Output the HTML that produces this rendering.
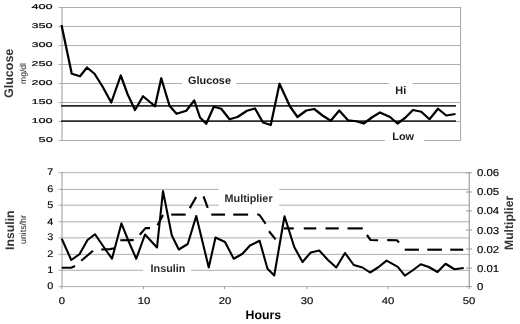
<!DOCTYPE html><html><head><meta charset="utf-8"><title>Glucose / Insulin chart</title><style>
html,body{margin:0;padding:0;background:#fff}
#c{position:relative;width:520px;height:324px;overflow:hidden;background:#fff;font-family:"Liberation Sans",Arial,Helvetica,sans-serif;color:#111;text-rendering:geometricPrecision}
.t{position:absolute;white-space:nowrap;line-height:1}
.yl{position:absolute;white-space:nowrap;line-height:1;font-size:7px;transform-origin:100% 50%;transform:scaleX(1.82);text-align:right;color:#000;-webkit-text-stroke:0.16px #000}
.bl{position:absolute;white-space:nowrap;line-height:1;font-size:10px;color:#000;-webkit-text-stroke:0.15px #000}
.rot{position:absolute;white-space:nowrap;line-height:1;transform-origin:0 0;transform:rotate(-90deg)}
</style></head><body><div id="c">
<svg width="520" height="324" viewBox="0 0 520 324" style="position:absolute;left:0;top:0">
<line x1="58.5" x2="461" y1="7.5" y2="7.5" stroke="#b0b0b0" stroke-width="1"/>
<line x1="58.5" x2="461" y1="26.5" y2="26.5" stroke="#b0b0b0" stroke-width="1"/>
<line x1="58.5" x2="461" y1="45.5" y2="45.5" stroke="#b0b0b0" stroke-width="1"/>
<line x1="58.5" x2="461" y1="64.5" y2="64.5" stroke="#b0b0b0" stroke-width="1"/>
<line x1="58.5" x2="461" y1="83.5" y2="83.5" stroke="#b0b0b0" stroke-width="1"/>
<line x1="58.5" x2="461" y1="102.5" y2="102.5" stroke="#b0b0b0" stroke-width="1"/>
<line x1="58.5" x2="461" y1="121.5" y2="121.5" stroke="#b0b0b0" stroke-width="1"/>
<line x1="58.5" x2="461" y1="140.5" y2="140.5" stroke="#b0b0b0" stroke-width="1"/>
<line x1="62" x2="62" y1="7" y2="141" stroke="#9a9a9a" stroke-width="1"/>
<line x1="460.6" x2="460.6" y1="7" y2="141" stroke="#a4a4a4" stroke-width="1"/>
<rect x="182" y="75" width="54" height="12" fill="#fff"/>
<rect x="389" y="78" width="23.5" height="18" fill="#fff"/>
<rect x="385" y="131" width="39" height="12" fill="#fff"/>
<line x1="61" x2="456" y1="105.8" y2="105.8" stroke="#2a2a2a" stroke-width="1.75"/>
<line x1="61" x2="456" y1="121.05" y2="121.05" stroke="#2a2a2a" stroke-width="1.75"/>
<polyline points="61.5,25 71.75,73.75 80,76.25 87,67.5 94.5,73.75 102.5,86.5 111.25,102.5 120.75,75.5 127.5,94 135,110 143,96.25 155,106.25 161.25,78.25 169.5,105.75 176.5,113.75 186.25,110.75 194.25,100.5 200,117.5 206.25,123.75 213.75,106.75 221.25,108.75 229.5,119.25 237.5,117 247,110.75 255,108.5 263,122.5 270.75,125 279.5,83.75 290,106.5 297.5,117 306.25,110.5 314.25,109 322.5,115.5 330.75,120.75 339.25,110.5 348,120.25 356.25,121.25 363.75,123.5 372.5,117 380,112.5 390,117 397.5,123.5 405,118 413,110 421.25,111.75 429.5,119.25 438,108.75 446.25,115.5 455.5,114" fill="none" stroke="#000" stroke-width="2.25" stroke-linejoin="round"/>
<line x1="58.5" x2="469" y1="172.7" y2="172.7" stroke="#b0b0b0" stroke-width="1"/>
<line x1="58.5" x2="469" y1="189.4" y2="189.4" stroke="#b0b0b0" stroke-width="1"/>
<line x1="58.5" x2="469" y1="205.2" y2="205.2" stroke="#b0b0b0" stroke-width="1"/>
<line x1="58.5" x2="469" y1="221.8" y2="221.8" stroke="#b0b0b0" stroke-width="1"/>
<line x1="58.5" x2="469" y1="237.9" y2="237.9" stroke="#b0b0b0" stroke-width="1"/>
<line x1="58.5" x2="469" y1="254.4" y2="254.4" stroke="#b0b0b0" stroke-width="1"/>
<line x1="58.5" x2="469" y1="270.3" y2="270.3" stroke="#b0b0b0" stroke-width="1"/>
<line x1="58.5" x2="469" y1="286.6" y2="286.6" stroke="#b0b0b0" stroke-width="1"/>
<line x1="62" x2="62" y1="172" y2="287" stroke="#9a9a9a" stroke-width="1"/>
<line x1="469.2" x2="469.2" y1="172" y2="287" stroke="#8c8c8c" stroke-width="1"/>
<line x1="466" x2="472" y1="172.8" y2="172.8" stroke="#9a9a9a" stroke-width="1"/>
<line x1="466" x2="472" y1="192.0" y2="192.0" stroke="#9a9a9a" stroke-width="1"/>
<line x1="466" x2="472" y1="210.9" y2="210.9" stroke="#9a9a9a" stroke-width="1"/>
<line x1="466" x2="472" y1="230.0" y2="230.0" stroke="#9a9a9a" stroke-width="1"/>
<line x1="466" x2="472" y1="249.0" y2="249.0" stroke="#9a9a9a" stroke-width="1"/>
<line x1="466" x2="472" y1="268.1" y2="268.1" stroke="#9a9a9a" stroke-width="1"/>
<line x1="466" x2="472" y1="286.6" y2="286.6" stroke="#9a9a9a" stroke-width="1"/>
<line x1="61.8" x2="61.8" y1="286.5" y2="289" stroke="#9a9a9a" stroke-width="1"/>
<line x1="143.4" x2="143.4" y1="286.5" y2="289" stroke="#9a9a9a" stroke-width="1"/>
<line x1="224.6" x2="224.6" y1="286.5" y2="289" stroke="#9a9a9a" stroke-width="1"/>
<line x1="307" x2="307" y1="286.5" y2="289" stroke="#9a9a9a" stroke-width="1"/>
<line x1="388.2" x2="388.2" y1="286.5" y2="289" stroke="#9a9a9a" stroke-width="1"/>
<line x1="469.2" x2="469.2" y1="286.5" y2="289" stroke="#9a9a9a" stroke-width="1"/>
<rect x="218.75" y="186" width="60.5" height="22" fill="#fff"/>
<rect x="143" y="264" width="48" height="11" fill="#fff"/>
<polyline points="61.75,238.75 71.25,260 79.5,254.25 87.5,240 95,234.25 103.75,247 112,258.75 121.4,223.4 128.5,241 136.25,258.75 145,234.5 157,247.5 163,191.1 171.75,235.25 178.75,249.5 187.75,244 196.25,216 208.75,267.5 215.5,237.5 225,242 233.75,258.75 242.5,253.75 250,245.5 259.6,240.8 267.5,268.75 274.25,275.5 284.5,216.25 294.25,247 302.5,262 310.75,252.5 319.25,250.5 328,260 336.25,267.5 345,253 353.75,265 362.5,267.5 370,272.5 378,267.5 386.6,260.6 397.8,266.9 404.9,275.7 412.5,270.5 420.75,264.25 428.75,267 437.5,272 445.5,263.75 454.5,269.25 463.75,268" fill="none" stroke="#000" stroke-width="2.1" stroke-linejoin="round"/>
<polyline points="61.75,267.75 71.25,267.75 75,266" fill="none" stroke="#000" stroke-width="2.15" stroke-linejoin="round"/>
<polyline points="81.25,260.75 93,250.75" fill="none" stroke="#000" stroke-width="2.15" stroke-linejoin="round"/>
<polyline points="101.25,249.5 110,249.1 114.4,248.2" fill="none" stroke="#000" stroke-width="2.15" stroke-linejoin="round"/>
<polyline points="120.25,240.3 133.75,240.1" fill="none" stroke="#000" stroke-width="2.15" stroke-linejoin="round"/>
<polyline points="139.8,234.8 145.5,228.1 150,228.1" fill="none" stroke="#000" stroke-width="2.15" stroke-linejoin="round"/>
<polyline points="157.5,225.2 163,215" fill="none" stroke="#000" stroke-width="2.15" stroke-linejoin="round"/>
<polyline points="171.25,214.6 185.6,214.6" fill="none" stroke="#000" stroke-width="2.15" stroke-linejoin="round"/>
<polyline points="189.75,208.1 196.2,197" fill="none" stroke="#000" stroke-width="2.15" stroke-linejoin="round"/>
<polyline points="203.5,196.4 207.75,207.9" fill="none" stroke="#000" stroke-width="2.15" stroke-linejoin="round"/>
<polyline points="211.25,214.6 225,214.6" fill="none" stroke="#000" stroke-width="2.15" stroke-linejoin="round"/>
<polyline points="233.25,214.6 248.1,214.6" fill="none" stroke="#000" stroke-width="2.15" stroke-linejoin="round"/>
<polyline points="257.3,214.3 259.5,215 265.6,223.75" fill="none" stroke="#000" stroke-width="2.15" stroke-linejoin="round"/>
<polyline points="269,231.25 275.6,239.4" fill="none" stroke="#000" stroke-width="2.15" stroke-linejoin="round"/>
<polyline points="283.75,228.4 293.75,228.4" fill="none" stroke="#000" stroke-width="2.15" stroke-linejoin="round"/>
<polyline points="303.75,228.4 316.25,228.4" fill="none" stroke="#000" stroke-width="2.15" stroke-linejoin="round"/>
<polyline points="325.5,228.4 338.75,228.4" fill="none" stroke="#000" stroke-width="2.15" stroke-linejoin="round"/>
<polyline points="347.5,228.4 362.75,228.4" fill="none" stroke="#000" stroke-width="2.15" stroke-linejoin="round"/>
<polyline points="366.9,235 370.6,240 378.1,240.3" fill="none" stroke="#000" stroke-width="2.15" stroke-linejoin="round"/>
<polyline points="387.25,240.1 396.9,240.3 399,242.5" fill="none" stroke="#000" stroke-width="2.15" stroke-linejoin="round"/>
<polyline points="404.75,249.7 418.9,249.7" fill="none" stroke="#000" stroke-width="2.15" stroke-linejoin="round"/>
<polyline points="427.25,249.7 441.9,249.7" fill="none" stroke="#000" stroke-width="2.15" stroke-linejoin="round"/>
<polyline points="450.25,249.7 463.2,249.7" fill="none" stroke="#000" stroke-width="2.15" stroke-linejoin="round"/>
</svg>
<div class="yl" style="right:467.4px;top:3.6px">400</div>
<div class="yl" style="right:467.4px;top:22.6px">350</div>
<div class="yl" style="right:467.4px;top:41.6px">300</div>
<div class="yl" style="right:467.4px;top:60.6px">250</div>
<div class="yl" style="right:467.4px;top:79.6px">200</div>
<div class="yl" style="right:467.4px;top:98.6px">150</div>
<div class="yl" style="right:467.4px;top:117.6px">100</div>
<div class="yl" style="right:467.4px;top:136.6px">50</div>
<div class="bl" style="right:466.7px;top:168.20000000000002px;font-size:9.6px;transform-origin:100% 50%;transform:scaleX(1.13)">7</div>
<div class="bl" style="right:466.7px;top:184.8px;font-size:9.6px;transform-origin:100% 50%;transform:scaleX(1.13)">6</div>
<div class="bl" style="right:466.7px;top:201.10000000000002px;font-size:9.6px;transform-origin:100% 50%;transform:scaleX(1.13)">5</div>
<div class="bl" style="right:466.7px;top:217.5px;font-size:9.6px;transform-origin:100% 50%;transform:scaleX(1.13)">4</div>
<div class="bl" style="right:466.7px;top:233.3px;font-size:9.6px;transform-origin:100% 50%;transform:scaleX(1.13)">3</div>
<div class="bl" style="right:466.7px;top:250.0px;font-size:9.6px;transform-origin:100% 50%;transform:scaleX(1.13)">2</div>
<div class="bl" style="right:466.7px;top:265.5px;font-size:9.6px;transform-origin:100% 50%;transform:scaleX(1.13)">1</div>
<div class="bl" style="right:466.7px;top:282.1px;font-size:9.6px;transform-origin:100% 50%;transform:scaleX(1.13)">0</div>
<div class="bl" style="left:477.3px;top:169.1px;font-size:10.1px;transform-origin:0 50%;transform:scaleX(1.13)">0.06</div>
<div class="bl" style="left:477.3px;top:188.45px;font-size:10.1px;transform-origin:0 50%;transform:scaleX(1.13)">0.05</div>
<div class="bl" style="left:477.3px;top:207.45px;font-size:10.1px;transform-origin:0 50%;transform:scaleX(1.13)">0.04</div>
<div class="bl" style="left:477.3px;top:226.7px;font-size:10.1px;transform-origin:0 50%;transform:scaleX(1.13)">0.03</div>
<div class="bl" style="left:477.3px;top:245.95px;font-size:10.1px;transform-origin:0 50%;transform:scaleX(1.13)">0.02</div>
<div class="bl" style="left:477.3px;top:264.7px;font-size:10.1px;transform-origin:0 50%;transform:scaleX(1.13)">0.01</div>
<div class="bl" style="left:477.3px;top:283.2px;font-size:10.1px;transform-origin:0 50%;transform:scaleX(1.13)">0</div>
<div class="bl" style="left:47.2px;width:30px;text-align:center;top:297px;font-size:9.8px;transform:scaleX(1.15)">0</div>
<div class="bl" style="left:128.75px;width:30px;text-align:center;top:297px;font-size:9.8px;transform:scaleX(1.15)">10</div>
<div class="bl" style="left:210px;width:30px;text-align:center;top:297px;font-size:9.8px;transform:scaleX(1.15)">20</div>
<div class="bl" style="left:292px;width:30px;text-align:center;top:297px;font-size:9.8px;transform:scaleX(1.15)">30</div>
<div class="bl" style="left:373.4px;width:30px;text-align:center;top:297px;font-size:9.8px;transform:scaleX(1.15)">40</div>
<div class="bl" style="left:454.2px;width:30px;text-align:center;top:297px;font-size:9.8px;transform:scaleX(1.15)">50</div>
<div class="t" style="left:245.5px;top:309.2px;font-size:12.3px;font-weight:bold;color:#000">Hours</div>
<div class="t" style="left:188px;top:75.6px;font-size:10.9px;font-weight:bold;color:#1a1a1a">Glucose</div>
<div class="t" style="left:395.3px;top:85.6px;font-size:10.9px;font-weight:bold;color:#1a1a1a">Hi</div>
<div class="t" style="left:392.3px;top:132px;font-size:10.9px;font-weight:bold;color:#1a1a1a">Low</div>
<div class="t" style="left:224.6px;top:193.6px;font-size:10.8px;font-weight:bold;color:#2a2a2a">Multiplier</div>
<div class="t" style="left:150.6px;top:263.6px;font-size:10.8px;font-weight:bold;color:#2a2a2a">Insulin</div>
<div class="rot" style="left:2.6px;top:98.2px;font-size:12.5px;font-weight:bold;color:#363636">Glucose</div>
<div class="rot" style="left:19px;top:84.4px;font-size:8.6px;color:#1c1c1c">mg/dl</div>
<div class="rot" style="left:3.6px;top:250.2px;font-size:12.3px;font-weight:bold;color:#363636">Insulin</div>
<div class="rot" style="left:19px;top:244px;font-size:8.8px;color:#1c1c1c">units/hr</div>
<div class="rot" style="left:502.6px;top:249.8px;font-size:12.2px;font-weight:bold;color:#363636">Multiplier</div>
</div></body></html>
